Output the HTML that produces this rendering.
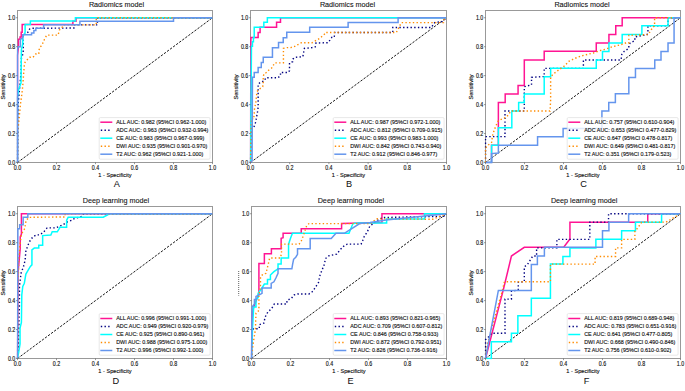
<!DOCTYPE html>
<html><head><meta charset="utf-8"><style>
html,body{margin:0;padding:0;background:#fff;}
body{width:685px;height:391px;overflow:hidden;}
svg{display:block;font-family:"Liberation Sans", sans-serif;}
</style></head><body>
<svg width="685" height="391" viewBox="0 0 685 391">
<rect width="685" height="391" fill="#fff"/>
<text x="116.50" y="7.30" font-size="7.4" text-anchor="middle" textLength="55.22" lengthAdjust="spacingAndGlyphs" fill="#111" stroke="#111" stroke-width="0.1">Radiomics model</text>
<rect x="17.5" y="10.5" width="195" height="152" fill="none" stroke="#999" stroke-width="1"/>
<clipPath id="c0"><rect x="16.5" y="10.5" width="196.5" height="153"/></clipPath>
<g clip-path="url(#c0)" fill="none" stroke-linejoin="miter">
<line x1="17.5" y1="162.5" x2="212.5" y2="17.74" stroke="#1a1a1a" stroke-width="1.0" stroke-dasharray="2.4 1.4"/>
<polyline points="17.5,162.5 17.5,55.38 18.48,46.69 18.48,39.31 20.04,39.31 20.04,36.99 21.2,36.99 21.2,32.36 22.18,32.36 22.18,24.54 72.88,24.54 72.88,21.21 76,21.21 76,17.74 212.5,17.74" stroke="#ff1493" stroke-width="1.5"/>
<polyline points="17.5,162.5 18.09,104.6 21.01,72.75 21.4,58.27 23.16,53.2 23.35,43.8 22.77,38 22.77,34.82 27.25,32.94 28.42,31.64 29.59,29.03 32.32,28.31 73.85,28.02 73.85,24.83 97.45,24.83 97.45,17.74 212.5,17.74" stroke="#000080" stroke-width="1.4" stroke-dasharray="1.4 2.3"/>
<polyline points="17.5,162.5 17.5,97.36 18.48,90.12 21.01,82.88 21.4,49.59 22.77,43.8 22.77,35.69 24.33,34.24 25.11,32.21 25.11,24.54 30.37,24.54 30.37,21.07 75.41,21.07 75.41,17.74 212.5,17.74" stroke="#00ffff" stroke-width="1.5"/>
<polyline points="17.5,162.5 17.5,130.65 18.48,124.86 20.43,104.6 22.38,90.12 22.96,82.88 24.33,64.64 25.3,61.6 27.25,59.72 29.79,57.26 33.1,57.26 35.64,53.93 38.75,53.93 39.34,48.14 41.88,45.24 44.41,39.45 46.75,35.11 58.06,35.11 59.42,30.04 61.57,28.02 63.52,25.41 63.52,24.83 96.28,24.83 96.28,17.74 212.5,17.74" stroke="#ff8c00" stroke-width="1.4" stroke-dasharray="1.4 2.3"/>
<polyline points="17.5,162.5 17.5,49.59 18.28,46.69 20.43,46.69 20.43,39.45 22.77,38 22.77,34.82 31.54,34.82 31.54,32.94 33.88,32.94 33.88,30.62 35.83,30.62 35.83,28.31 43.63,28.31 43.63,24.83 79.9,24.83 79.9,21.36 173.5,21.36 173.5,17.74 212.5,17.74" stroke="#6495ed" stroke-width="1.5"/>
</g>
<line x1="17.5" y1="162.5" x2="17.5" y2="164.1" stroke="#555" stroke-width="0.6"/>
<line x1="17.5" y1="162.5" x2="15.9" y2="162.5" stroke="#555" stroke-width="0.6"/>
<text x="17.50" y="169.50" font-size="6.4" text-anchor="middle" textLength="7.37" lengthAdjust="spacingAndGlyphs" fill="#111" stroke="#111" stroke-width="0.14">0.0</text>
<text x="15.30" y="164.80" font-size="6.4" text-anchor="end" textLength="7.37" lengthAdjust="spacingAndGlyphs" fill="#111" stroke="#111" stroke-width="0.14">0.0</text>
<line x1="56.5" y1="162.5" x2="56.5" y2="164.1" stroke="#555" stroke-width="0.6"/>
<line x1="17.5" y1="133.55" x2="15.9" y2="133.55" stroke="#555" stroke-width="0.6"/>
<text x="56.50" y="169.50" font-size="6.4" text-anchor="middle" textLength="7.37" lengthAdjust="spacingAndGlyphs" fill="#111" stroke="#111" stroke-width="0.14">0.2</text>
<text x="15.30" y="135.85" font-size="6.4" text-anchor="end" textLength="7.37" lengthAdjust="spacingAndGlyphs" fill="#111" stroke="#111" stroke-width="0.14">0.2</text>
<line x1="95.5" y1="162.5" x2="95.5" y2="164.1" stroke="#555" stroke-width="0.6"/>
<line x1="17.5" y1="104.6" x2="15.9" y2="104.6" stroke="#555" stroke-width="0.6"/>
<text x="95.50" y="169.50" font-size="6.4" text-anchor="middle" textLength="7.37" lengthAdjust="spacingAndGlyphs" fill="#111" stroke="#111" stroke-width="0.14">0.4</text>
<text x="15.30" y="106.90" font-size="6.4" text-anchor="end" textLength="7.37" lengthAdjust="spacingAndGlyphs" fill="#111" stroke="#111" stroke-width="0.14">0.4</text>
<line x1="134.5" y1="162.5" x2="134.5" y2="164.1" stroke="#555" stroke-width="0.6"/>
<line x1="17.5" y1="75.64" x2="15.9" y2="75.64" stroke="#555" stroke-width="0.6"/>
<text x="134.50" y="169.50" font-size="6.4" text-anchor="middle" textLength="7.37" lengthAdjust="spacingAndGlyphs" fill="#111" stroke="#111" stroke-width="0.14">0.6</text>
<text x="15.30" y="77.94" font-size="6.4" text-anchor="end" textLength="7.37" lengthAdjust="spacingAndGlyphs" fill="#111" stroke="#111" stroke-width="0.14">0.6</text>
<line x1="173.5" y1="162.5" x2="173.5" y2="164.1" stroke="#555" stroke-width="0.6"/>
<line x1="17.5" y1="46.69" x2="15.9" y2="46.69" stroke="#555" stroke-width="0.6"/>
<text x="173.50" y="169.50" font-size="6.4" text-anchor="middle" textLength="7.37" lengthAdjust="spacingAndGlyphs" fill="#111" stroke="#111" stroke-width="0.14">0.8</text>
<text x="15.30" y="48.99" font-size="6.4" text-anchor="end" textLength="7.37" lengthAdjust="spacingAndGlyphs" fill="#111" stroke="#111" stroke-width="0.14">0.8</text>
<line x1="212.5" y1="162.5" x2="212.5" y2="164.1" stroke="#555" stroke-width="0.6"/>
<line x1="17.5" y1="17.74" x2="15.9" y2="17.74" stroke="#555" stroke-width="0.6"/>
<text x="212.50" y="169.50" font-size="6.4" text-anchor="middle" textLength="7.37" lengthAdjust="spacingAndGlyphs" fill="#111" stroke="#111" stroke-width="0.14">1.0</text>
<text x="15.30" y="20.04" font-size="6.4" text-anchor="end" textLength="7.37" lengthAdjust="spacingAndGlyphs" fill="#111" stroke="#111" stroke-width="0.14">1.0</text>
<text x="115.00" y="176.50" font-size="6.2" text-anchor="middle" textLength="33.30" lengthAdjust="spacingAndGlyphs" fill="#111" stroke="#111" stroke-width="0.14">1 - Specificity</text>
<text x="4.90" y="87.00" font-size="6.0" text-anchor="middle" textLength="24.98" lengthAdjust="spacingAndGlyphs" fill="#111" stroke="#111" stroke-width="0.14" transform="rotate(-90 4.9 87)">Sensitivity</text>
<text x="116.80" y="186.60" font-size="9.7" text-anchor="middle" textLength="6.14" lengthAdjust="spacingAndGlyphs" fill="#111" stroke="#111" stroke-width="0.05">A</text>
<rect x="99.2" y="117.6" width="110.9" height="41.6" rx="1.2" fill="#fff" fill-opacity="0.8" stroke="#d8d8d8" stroke-width="0.6"/>
<line x1="100.3" y1="122.2" x2="112.3" y2="122.2" stroke="#ff1493" stroke-width="1.5"/>
<text x="116.20" y="124.10" font-size="6.2" textLength="90.15" lengthAdjust="spacingAndGlyphs" fill="#111" stroke="#111" stroke-width="0.14">ALL AUC: 0.982 (95%CI 0.962-1.000)</text>
<line x1="100.8" y1="130.2" x2="111.5" y2="130.2" stroke="#000080" stroke-width="1.4" stroke-dasharray="1.4 2.3"/>
<text x="116.20" y="132.10" font-size="6.2" textLength="92.14" lengthAdjust="spacingAndGlyphs" fill="#111" stroke="#111" stroke-width="0.14">ADC AUC: 0.963 (95%CI 0.932-0.994)</text>
<line x1="100.3" y1="138.2" x2="112.3" y2="138.2" stroke="#00ffff" stroke-width="1.5"/>
<text x="116.20" y="140.10" font-size="6.2" textLength="88.24" lengthAdjust="spacingAndGlyphs" fill="#111" stroke="#111" stroke-width="0.14">CE AUC: 0.983 (95%CI 0.967-0.999)</text>
<line x1="100.8" y1="146.2" x2="111.5" y2="146.2" stroke="#ff8c00" stroke-width="1.4" stroke-dasharray="1.4 2.3"/>
<text x="116.20" y="148.10" font-size="6.2" textLength="91.24" lengthAdjust="spacingAndGlyphs" fill="#111" stroke="#111" stroke-width="0.14">DWI AUC: 0.935 (95%CI 0.901-0.970)</text>
<line x1="100.3" y1="154.2" x2="112.3" y2="154.2" stroke="#6495ed" stroke-width="1.5"/>
<text x="116.20" y="156.10" font-size="6.2" textLength="87.04" lengthAdjust="spacingAndGlyphs" fill="#111" stroke="#111" stroke-width="0.14">T2 AUC: 0.962 (95%CI 0.921-1.000)</text>
<text x="347.50" y="7.30" font-size="7.4" text-anchor="middle" textLength="55.22" lengthAdjust="spacingAndGlyphs" fill="#111" stroke="#111" stroke-width="0.1">Radiomics model</text>
<rect x="250.5" y="10.5" width="196" height="152" fill="none" stroke="#999" stroke-width="1"/>
<clipPath id="c1"><rect x="249.5" y="10.5" width="197.5" height="153"/></clipPath>
<g clip-path="url(#c1)" fill="none" stroke-linejoin="miter">
<line x1="250.5" y1="162.5" x2="446.5" y2="17.74" stroke="#1a1a1a" stroke-width="1.0" stroke-dasharray="2.4 1.4"/>
<polyline points="250.5,162.5 250.89,37.5 258.14,37.5 258.14,32.43 260.1,32.43 260.1,27.36 276.57,27.36 276.57,22.15 280.49,22.15 280.49,17.74 446.5,17.74" stroke="#ff1493" stroke-width="1.5"/>
<polyline points="250.5,162.5 251.48,128.7 253.64,127.83 255.4,122.91 256.18,119.14 256.97,114.8 257.95,109.59 258.14,105.83 258.14,84.11 260.69,82.08 264.42,80.93 265.79,77.74 277.94,77.74 280.49,75.72 280.49,72.53 288.13,72.53 289.5,70.65 289.5,62.98 292.64,61.67 292.84,59.07 295.19,57.33 302.83,56.75 304.4,48.36 312.04,47.63 315.18,46.91 315.96,43 328.12,42.71 332.04,37.21 334.19,37.21 334.78,32.43 392.8,32.43 392.8,27.51 431.21,27.51 434.74,22.59 442.58,21.57 446.5,17.74" stroke="#000080" stroke-width="1.4" stroke-dasharray="1.4 2.3"/>
<polyline points="250.5,162.5 251.48,46.18 252.46,46.18 252.46,41.84 253.44,41.84 253.44,37.5 254.22,37.5 254.22,27.36 263.83,27.36 263.83,22.15 267.36,22.15 267.36,17.74 446.5,17.74" stroke="#00ffff" stroke-width="1.5"/>
<polyline points="250.5,162.5 251.09,127.25 251.48,118.56 253.64,119.14 254.22,113.5 254.42,109.59 255.01,106.4 255.79,102.64 256.18,98.73 256.97,91.64 259.32,89.18 262.65,86.72 263.24,84.11 263.24,77.16 263.83,73.83 266.38,72.53 268.92,69.92 271.67,68.04 274.8,62.83 283.43,62.83 283.43,48.36 286.96,47.63 290.68,47.63 294.6,46.47 297.15,45.03 301.46,42.71 312.04,42.71 319.69,38.37 325.76,33.01 325.76,32.43 396.32,32.43 401.42,22.59 443.56,22.59 444.54,17.74 446.5,17.74" stroke="#ff8c00" stroke-width="1.4" stroke-dasharray="1.4 2.3"/>
<polyline points="250.5,162.5 252.07,160.55 252.46,77.16 254.22,77.16 254.22,72.53 258.14,72.53 258.14,67.46 261.28,67.46 261.28,62.4 263.24,62.4 263.24,57.33 272.45,57.33 272.45,47.63 278.53,47.63 278.53,42.42 283.23,42.42 283.23,37.64 286.76,37.64 286.76,32.29 309.69,32.29 309.69,27.36 348.11,27.36 348.11,22.59 398.09,22.59 398.09,17.74 446.5,17.74" stroke="#6495ed" stroke-width="1.5"/>
</g>
<line x1="250.5" y1="162.5" x2="250.5" y2="164.1" stroke="#555" stroke-width="0.6"/>
<line x1="250.5" y1="162.5" x2="248.9" y2="162.5" stroke="#555" stroke-width="0.6"/>
<text x="250.50" y="169.50" font-size="6.4" text-anchor="middle" textLength="7.37" lengthAdjust="spacingAndGlyphs" fill="#111" stroke="#111" stroke-width="0.14">0.0</text>
<text x="248.30" y="164.80" font-size="6.4" text-anchor="end" textLength="7.37" lengthAdjust="spacingAndGlyphs" fill="#111" stroke="#111" stroke-width="0.14">0.0</text>
<line x1="289.7" y1="162.5" x2="289.7" y2="164.1" stroke="#555" stroke-width="0.6"/>
<line x1="250.5" y1="133.55" x2="248.9" y2="133.55" stroke="#555" stroke-width="0.6"/>
<text x="289.70" y="169.50" font-size="6.4" text-anchor="middle" textLength="7.37" lengthAdjust="spacingAndGlyphs" fill="#111" stroke="#111" stroke-width="0.14">0.2</text>
<text x="248.30" y="135.85" font-size="6.4" text-anchor="end" textLength="7.37" lengthAdjust="spacingAndGlyphs" fill="#111" stroke="#111" stroke-width="0.14">0.2</text>
<line x1="328.9" y1="162.5" x2="328.9" y2="164.1" stroke="#555" stroke-width="0.6"/>
<line x1="250.5" y1="104.6" x2="248.9" y2="104.6" stroke="#555" stroke-width="0.6"/>
<text x="328.90" y="169.50" font-size="6.4" text-anchor="middle" textLength="7.37" lengthAdjust="spacingAndGlyphs" fill="#111" stroke="#111" stroke-width="0.14">0.4</text>
<text x="248.30" y="106.90" font-size="6.4" text-anchor="end" textLength="7.37" lengthAdjust="spacingAndGlyphs" fill="#111" stroke="#111" stroke-width="0.14">0.4</text>
<line x1="368.1" y1="162.5" x2="368.1" y2="164.1" stroke="#555" stroke-width="0.6"/>
<line x1="250.5" y1="75.64" x2="248.9" y2="75.64" stroke="#555" stroke-width="0.6"/>
<text x="368.10" y="169.50" font-size="6.4" text-anchor="middle" textLength="7.37" lengthAdjust="spacingAndGlyphs" fill="#111" stroke="#111" stroke-width="0.14">0.6</text>
<text x="248.30" y="77.94" font-size="6.4" text-anchor="end" textLength="7.37" lengthAdjust="spacingAndGlyphs" fill="#111" stroke="#111" stroke-width="0.14">0.6</text>
<line x1="407.3" y1="162.5" x2="407.3" y2="164.1" stroke="#555" stroke-width="0.6"/>
<line x1="250.5" y1="46.69" x2="248.9" y2="46.69" stroke="#555" stroke-width="0.6"/>
<text x="407.30" y="169.50" font-size="6.4" text-anchor="middle" textLength="7.37" lengthAdjust="spacingAndGlyphs" fill="#111" stroke="#111" stroke-width="0.14">0.8</text>
<text x="248.30" y="48.99" font-size="6.4" text-anchor="end" textLength="7.37" lengthAdjust="spacingAndGlyphs" fill="#111" stroke="#111" stroke-width="0.14">0.8</text>
<line x1="446.5" y1="162.5" x2="446.5" y2="164.1" stroke="#555" stroke-width="0.6"/>
<line x1="250.5" y1="17.74" x2="248.9" y2="17.74" stroke="#555" stroke-width="0.6"/>
<text x="446.50" y="169.50" font-size="6.4" text-anchor="middle" textLength="7.37" lengthAdjust="spacingAndGlyphs" fill="#111" stroke="#111" stroke-width="0.14">1.0</text>
<text x="248.30" y="20.04" font-size="6.4" text-anchor="end" textLength="7.37" lengthAdjust="spacingAndGlyphs" fill="#111" stroke="#111" stroke-width="0.14">1.0</text>
<text x="348.50" y="176.50" font-size="6.2" text-anchor="middle" textLength="33.30" lengthAdjust="spacingAndGlyphs" fill="#111" stroke="#111" stroke-width="0.14">1 - Specificity</text>
<text x="237.90" y="87.00" font-size="6.0" text-anchor="middle" textLength="24.98" lengthAdjust="spacingAndGlyphs" fill="#111" stroke="#111" stroke-width="0.14" transform="rotate(-90 237.9 87)">Sensitivity</text>
<text x="349.10" y="186.60" font-size="9.7" text-anchor="middle" textLength="6.14" lengthAdjust="spacingAndGlyphs" fill="#111" stroke="#111" stroke-width="0.05">B</text>
<rect x="333.2" y="117.6" width="110.9" height="41.6" rx="1.2" fill="#fff" fill-opacity="0.8" stroke="#d8d8d8" stroke-width="0.6"/>
<line x1="334.3" y1="122.2" x2="346.3" y2="122.2" stroke="#ff1493" stroke-width="1.5"/>
<text x="350.20" y="124.10" font-size="6.2" textLength="90.15" lengthAdjust="spacingAndGlyphs" fill="#111" stroke="#111" stroke-width="0.14">ALL AUC: 0.987 (95%CI 0.972-1.000)</text>
<line x1="334.8" y1="130.2" x2="345.5" y2="130.2" stroke="#000080" stroke-width="1.4" stroke-dasharray="1.4 2.3"/>
<text x="350.20" y="132.10" font-size="6.2" textLength="92.14" lengthAdjust="spacingAndGlyphs" fill="#111" stroke="#111" stroke-width="0.14">ADC AUC: 0.812 (95%CI 0.709-0.915)</text>
<line x1="334.3" y1="138.2" x2="346.3" y2="138.2" stroke="#00ffff" stroke-width="1.5"/>
<text x="350.20" y="140.10" font-size="6.2" textLength="88.24" lengthAdjust="spacingAndGlyphs" fill="#111" stroke="#111" stroke-width="0.14">CE AUC: 0.993 (95%CI 0.983-1.000)</text>
<line x1="334.8" y1="146.2" x2="345.5" y2="146.2" stroke="#ff8c00" stroke-width="1.4" stroke-dasharray="1.4 2.3"/>
<text x="350.20" y="148.10" font-size="6.2" textLength="91.24" lengthAdjust="spacingAndGlyphs" fill="#111" stroke="#111" stroke-width="0.14">DWI AUC: 0.842 (95%CI 0.743-0.940)</text>
<line x1="334.3" y1="154.2" x2="346.3" y2="154.2" stroke="#6495ed" stroke-width="1.5"/>
<text x="350.20" y="156.10" font-size="6.2" textLength="87.04" lengthAdjust="spacingAndGlyphs" fill="#111" stroke="#111" stroke-width="0.14">T2 AUC: 0.912 (95%CI 0.846-0.977)</text>
<text x="582.00" y="7.30" font-size="7.4" text-anchor="middle" textLength="55.22" lengthAdjust="spacingAndGlyphs" fill="#111" stroke="#111" stroke-width="0.1">Radiomics model</text>
<rect x="485.5" y="10.5" width="195" height="152" fill="none" stroke="#999" stroke-width="1"/>
<clipPath id="c2"><rect x="484.5" y="10.5" width="196.5" height="153"/></clipPath>
<g clip-path="url(#c2)" fill="none" stroke-linejoin="miter">
<line x1="485.5" y1="162.5" x2="680.5" y2="17.74" stroke="#1a1a1a" stroke-width="1.0" stroke-dasharray="2.4 1.4"/>
<polyline points="485.5,162.5 491.55,162.5 491.55,145.27 498.37,145.27 498.37,102.5 505.19,102.5 505.19,93.96 518.07,93.96 518.07,85.56 524.3,85.56 524.3,59.94 544.2,59.94 544.2,51.25 596.26,51.25 596.26,43 608.93,43 608.93,34.6 615.76,34.6 615.76,25.77 622.19,25.77 622.19,17.74 680.5,17.74" stroke="#ff1493" stroke-width="1.5"/>
<polyline points="485.5,162.5 485.5,136.66 505,136.66 505,111.04 524.3,111.04 524.3,86.72 531.52,84.84 531.52,77.31 544.2,76.58 544.2,68.33 547.51,68.33 583.39,68.33 583.39,59.94 621.02,59.94 621.8,54.44 624.14,51.4 628.83,48.36 628.83,45.32 630.19,43 634.87,40.68 634.87,36.92 647.15,34.6 647.93,31.71 647.93,25.77 668.02,25.77 668.02,17.74 680.5,17.74" stroke="#000080" stroke-width="1.4" stroke-dasharray="1.4 2.3"/>
<polyline points="485.5,162.5 491.55,162.5 491.55,145.27 498.37,145.27 498.37,127.83 511.82,127.83 511.82,111.04 518.65,111.04 518.65,102.5 524.3,102.5 524.3,93.96 544.2,93.96 544.2,76.87 550.63,76.87 550.63,68.33 596.26,68.33 596.26,59.94 602.5,59.94 602.5,51.54 608.93,51.54 608.93,43 622.19,43 622.19,34.6 641.89,34.6 641.89,25.77 668.02,25.77 668.02,17.74 680.5,17.74" stroke="#00ffff" stroke-width="1.5"/>
<polyline points="485.5,162.5 485.5,148.02 487.64,145.56 491.74,142.23 492.13,138.47 492.71,135 493.69,131.67 495.06,128.05 496.42,124.72 497.79,121.53 500.51,119.65 503.83,118.35 506.56,116.9 508.9,114.15 510.85,111.04 550.04,111.04 550.63,100.04 550.63,76.87 553.55,73.83 556.67,71.52 559.79,69.2 564.28,66.02 568.76,61.38 575,58.34 581.05,56.03 587.29,54.44 593.34,52.99 599.58,50.67 605.62,49.22 611.86,46.91 618.1,45.32 623.95,43.72 627.07,42.28 628.83,43 628.83,35.33 647.93,34.6 650.86,30.69 652.42,27.36 654.57,25.92 654.57,17.74 680.5,17.74" stroke="#ff8c00" stroke-width="1.4" stroke-dasharray="1.4 2.3"/>
<polyline points="485.5,162.5 491.55,162.5 491.55,153.6 498.37,152.95 498.37,145.27 537.57,145.27 537.57,136.66 563.11,136.66 563.11,128.55 601.91,128.55 601.91,111.04 608.74,111.04 608.74,102.5 615.37,102.5 615.37,93.67 628.83,93.67 628.83,77.45 635.46,77.45 635.46,68.62 654.76,68.62 654.76,59.94 661,59.94 661,51.54 668.02,51.54 668.02,43 674.07,43 674.07,17.74 680.5,17.74" stroke="#6495ed" stroke-width="1.5"/>
</g>
<line x1="485.5" y1="162.5" x2="485.5" y2="164.1" stroke="#555" stroke-width="0.6"/>
<line x1="485.5" y1="162.5" x2="483.9" y2="162.5" stroke="#555" stroke-width="0.6"/>
<text x="485.50" y="169.50" font-size="6.4" text-anchor="middle" textLength="7.37" lengthAdjust="spacingAndGlyphs" fill="#111" stroke="#111" stroke-width="0.14">0.0</text>
<text x="483.30" y="164.80" font-size="6.4" text-anchor="end" textLength="7.37" lengthAdjust="spacingAndGlyphs" fill="#111" stroke="#111" stroke-width="0.14">0.0</text>
<line x1="524.5" y1="162.5" x2="524.5" y2="164.1" stroke="#555" stroke-width="0.6"/>
<line x1="485.5" y1="133.55" x2="483.9" y2="133.55" stroke="#555" stroke-width="0.6"/>
<text x="524.50" y="169.50" font-size="6.4" text-anchor="middle" textLength="7.37" lengthAdjust="spacingAndGlyphs" fill="#111" stroke="#111" stroke-width="0.14">0.2</text>
<text x="483.30" y="135.85" font-size="6.4" text-anchor="end" textLength="7.37" lengthAdjust="spacingAndGlyphs" fill="#111" stroke="#111" stroke-width="0.14">0.2</text>
<line x1="563.5" y1="162.5" x2="563.5" y2="164.1" stroke="#555" stroke-width="0.6"/>
<line x1="485.5" y1="104.6" x2="483.9" y2="104.6" stroke="#555" stroke-width="0.6"/>
<text x="563.50" y="169.50" font-size="6.4" text-anchor="middle" textLength="7.37" lengthAdjust="spacingAndGlyphs" fill="#111" stroke="#111" stroke-width="0.14">0.4</text>
<text x="483.30" y="106.90" font-size="6.4" text-anchor="end" textLength="7.37" lengthAdjust="spacingAndGlyphs" fill="#111" stroke="#111" stroke-width="0.14">0.4</text>
<line x1="602.5" y1="162.5" x2="602.5" y2="164.1" stroke="#555" stroke-width="0.6"/>
<line x1="485.5" y1="75.64" x2="483.9" y2="75.64" stroke="#555" stroke-width="0.6"/>
<text x="602.50" y="169.50" font-size="6.4" text-anchor="middle" textLength="7.37" lengthAdjust="spacingAndGlyphs" fill="#111" stroke="#111" stroke-width="0.14">0.6</text>
<text x="483.30" y="77.94" font-size="6.4" text-anchor="end" textLength="7.37" lengthAdjust="spacingAndGlyphs" fill="#111" stroke="#111" stroke-width="0.14">0.6</text>
<line x1="641.5" y1="162.5" x2="641.5" y2="164.1" stroke="#555" stroke-width="0.6"/>
<line x1="485.5" y1="46.69" x2="483.9" y2="46.69" stroke="#555" stroke-width="0.6"/>
<text x="641.50" y="169.50" font-size="6.4" text-anchor="middle" textLength="7.37" lengthAdjust="spacingAndGlyphs" fill="#111" stroke="#111" stroke-width="0.14">0.8</text>
<text x="483.30" y="48.99" font-size="6.4" text-anchor="end" textLength="7.37" lengthAdjust="spacingAndGlyphs" fill="#111" stroke="#111" stroke-width="0.14">0.8</text>
<line x1="680.5" y1="162.5" x2="680.5" y2="164.1" stroke="#555" stroke-width="0.6"/>
<line x1="485.5" y1="17.74" x2="483.9" y2="17.74" stroke="#555" stroke-width="0.6"/>
<text x="680.50" y="169.50" font-size="6.4" text-anchor="middle" textLength="7.37" lengthAdjust="spacingAndGlyphs" fill="#111" stroke="#111" stroke-width="0.14">1.0</text>
<text x="483.30" y="20.04" font-size="6.4" text-anchor="end" textLength="7.37" lengthAdjust="spacingAndGlyphs" fill="#111" stroke="#111" stroke-width="0.14">1.0</text>
<text x="583.00" y="176.50" font-size="6.2" text-anchor="middle" textLength="33.30" lengthAdjust="spacingAndGlyphs" fill="#111" stroke="#111" stroke-width="0.14">1 - Specificity</text>
<text x="472.90" y="87.00" font-size="6.0" text-anchor="middle" textLength="24.98" lengthAdjust="spacingAndGlyphs" fill="#111" stroke="#111" stroke-width="0.14" transform="rotate(-90 472.9 87)">Sensitivity</text>
<text x="583.60" y="186.60" font-size="9.7" text-anchor="middle" textLength="6.64" lengthAdjust="spacingAndGlyphs" fill="#111" stroke="#111" stroke-width="0.05">C</text>
<rect x="567.2" y="117.6" width="110.9" height="41.6" rx="1.2" fill="#fff" fill-opacity="0.8" stroke="#d8d8d8" stroke-width="0.6"/>
<line x1="568.3" y1="122.2" x2="580.3" y2="122.2" stroke="#ff1493" stroke-width="1.5"/>
<text x="584.20" y="124.10" font-size="6.2" textLength="90.15" lengthAdjust="spacingAndGlyphs" fill="#111" stroke="#111" stroke-width="0.14">ALL AUC: 0.757 (95%CI 0.610-0.904)</text>
<line x1="568.8" y1="130.2" x2="579.5" y2="130.2" stroke="#000080" stroke-width="1.4" stroke-dasharray="1.4 2.3"/>
<text x="584.20" y="132.10" font-size="6.2" textLength="92.14" lengthAdjust="spacingAndGlyphs" fill="#111" stroke="#111" stroke-width="0.14">ADC AUC: 0.653 (95%CI 0.477-0.829)</text>
<line x1="568.3" y1="138.2" x2="580.3" y2="138.2" stroke="#00ffff" stroke-width="1.5"/>
<text x="584.20" y="140.10" font-size="6.2" textLength="88.24" lengthAdjust="spacingAndGlyphs" fill="#111" stroke="#111" stroke-width="0.14">CE AUC: 0.647 (95%CI 0.478-0.817)</text>
<line x1="568.8" y1="146.2" x2="579.5" y2="146.2" stroke="#ff8c00" stroke-width="1.4" stroke-dasharray="1.4 2.3"/>
<text x="584.20" y="148.10" font-size="6.2" textLength="91.24" lengthAdjust="spacingAndGlyphs" fill="#111" stroke="#111" stroke-width="0.14">DWI AUC: 0.649 (95%CI 0.481-0.817)</text>
<line x1="568.3" y1="154.2" x2="580.3" y2="154.2" stroke="#6495ed" stroke-width="1.5"/>
<text x="584.20" y="156.10" font-size="6.2" textLength="87.04" lengthAdjust="spacingAndGlyphs" fill="#111" stroke="#111" stroke-width="0.14">T2 AUC: 0.351 (95%CI 0.179-0.523)</text>
<text x="116.00" y="203.30" font-size="7.4" text-anchor="middle" textLength="66.44" lengthAdjust="spacingAndGlyphs" fill="#111" stroke="#111" stroke-width="0.1">Deep learning model</text>
<rect x="17.5" y="206.5" width="195" height="152" fill="none" stroke="#999" stroke-width="1"/>
<clipPath id="c3"><rect x="16.5" y="206.5" width="196.5" height="153"/></clipPath>
<g clip-path="url(#c3)" fill="none" stroke-linejoin="miter">
<line x1="17.5" y1="358.5" x2="212.5" y2="213.74" stroke="#1a1a1a" stroke-width="1.0" stroke-dasharray="2.4 1.4"/>
<polyline points="17.5,358.5 18.09,271.64 19.45,257.17 20.23,248.48 20.23,236.9 21.4,234 21.4,213.74 212.5,213.74" stroke="#ff1493" stroke-width="1.5"/>
<polyline points="17.5,358.5 18.48,344.02 19.45,304.07 19.45,286.12 20.43,278.01 21.2,272.66 23.55,266.43 25.11,260.21 25.88,251.09 28.03,245.01 30.37,240.08 32.91,236.9 36.22,234.87 39.92,234.87 43.83,231.83 47.14,227.92 55.91,227.92 62.74,224.88 67.42,221.84 71.91,220.25 74.25,218.66 81.85,216.34 83.8,213.74 212.5,213.74" stroke="#000080" stroke-width="1.4" stroke-dasharray="1.4 2.3"/>
<polyline points="17.5,358.5 18.86,351.26 20.04,344.02 20.04,328.1 21.4,322.31 21.79,294.8 22.77,286.41 24.33,283.22 25.88,274.1 28.03,270.34 30.37,266.43 31.93,264.84 31.93,249.78 34.27,248.05 38.75,248.05 38.75,245.3 42.66,245.3 42.66,235.6 50.85,235.02 52.21,231.83 57.28,231.83 59.23,228.65 59.81,227.35 66.64,227.35 66.64,220.25 68.2,217.21 103.3,217.21 109.54,213.74 212.5,213.74" stroke="#00ffff" stroke-width="1.5"/>
<polyline points="17.5,358.5 18.09,286.12 18.86,257.17 20.23,242.69 21.4,234 24.71,228.65 26.08,220.25 29.2,217.36 65.08,216.92 65.08,213.74 212.5,213.74" stroke="#ff8c00" stroke-width="1.4" stroke-dasharray="1.4 2.3"/>
<polyline points="17.5,358.5 17.89,228.65 19.64,228.65 19.64,224.74 23.16,224.74 23.16,217.36 27.84,217.36 27.84,213.74 212.5,213.74" stroke="#6495ed" stroke-width="1.5"/>
</g>
<line x1="17.5" y1="358.5" x2="17.5" y2="360.1" stroke="#555" stroke-width="0.6"/>
<line x1="17.5" y1="358.5" x2="15.9" y2="358.5" stroke="#555" stroke-width="0.6"/>
<text x="17.50" y="365.50" font-size="6.4" text-anchor="middle" textLength="7.37" lengthAdjust="spacingAndGlyphs" fill="#111" stroke="#111" stroke-width="0.14">0.0</text>
<text x="15.30" y="360.80" font-size="6.4" text-anchor="end" textLength="7.37" lengthAdjust="spacingAndGlyphs" fill="#111" stroke="#111" stroke-width="0.14">0.0</text>
<line x1="56.5" y1="358.5" x2="56.5" y2="360.1" stroke="#555" stroke-width="0.6"/>
<line x1="17.5" y1="329.55" x2="15.9" y2="329.55" stroke="#555" stroke-width="0.6"/>
<text x="56.50" y="365.50" font-size="6.4" text-anchor="middle" textLength="7.37" lengthAdjust="spacingAndGlyphs" fill="#111" stroke="#111" stroke-width="0.14">0.2</text>
<text x="15.30" y="331.85" font-size="6.4" text-anchor="end" textLength="7.37" lengthAdjust="spacingAndGlyphs" fill="#111" stroke="#111" stroke-width="0.14">0.2</text>
<line x1="95.5" y1="358.5" x2="95.5" y2="360.1" stroke="#555" stroke-width="0.6"/>
<line x1="17.5" y1="300.6" x2="15.9" y2="300.6" stroke="#555" stroke-width="0.6"/>
<text x="95.50" y="365.50" font-size="6.4" text-anchor="middle" textLength="7.37" lengthAdjust="spacingAndGlyphs" fill="#111" stroke="#111" stroke-width="0.14">0.4</text>
<text x="15.30" y="302.90" font-size="6.4" text-anchor="end" textLength="7.37" lengthAdjust="spacingAndGlyphs" fill="#111" stroke="#111" stroke-width="0.14">0.4</text>
<line x1="134.5" y1="358.5" x2="134.5" y2="360.1" stroke="#555" stroke-width="0.6"/>
<line x1="17.5" y1="271.64" x2="15.9" y2="271.64" stroke="#555" stroke-width="0.6"/>
<text x="134.50" y="365.50" font-size="6.4" text-anchor="middle" textLength="7.37" lengthAdjust="spacingAndGlyphs" fill="#111" stroke="#111" stroke-width="0.14">0.6</text>
<text x="15.30" y="273.94" font-size="6.4" text-anchor="end" textLength="7.37" lengthAdjust="spacingAndGlyphs" fill="#111" stroke="#111" stroke-width="0.14">0.6</text>
<line x1="173.5" y1="358.5" x2="173.5" y2="360.1" stroke="#555" stroke-width="0.6"/>
<line x1="17.5" y1="242.69" x2="15.9" y2="242.69" stroke="#555" stroke-width="0.6"/>
<text x="173.50" y="365.50" font-size="6.4" text-anchor="middle" textLength="7.37" lengthAdjust="spacingAndGlyphs" fill="#111" stroke="#111" stroke-width="0.14">0.8</text>
<text x="15.30" y="244.99" font-size="6.4" text-anchor="end" textLength="7.37" lengthAdjust="spacingAndGlyphs" fill="#111" stroke="#111" stroke-width="0.14">0.8</text>
<line x1="212.5" y1="358.5" x2="212.5" y2="360.1" stroke="#555" stroke-width="0.6"/>
<line x1="17.5" y1="213.74" x2="15.9" y2="213.74" stroke="#555" stroke-width="0.6"/>
<text x="212.50" y="365.50" font-size="6.4" text-anchor="middle" textLength="7.37" lengthAdjust="spacingAndGlyphs" fill="#111" stroke="#111" stroke-width="0.14">1.0</text>
<text x="15.30" y="216.04" font-size="6.4" text-anchor="end" textLength="7.37" lengthAdjust="spacingAndGlyphs" fill="#111" stroke="#111" stroke-width="0.14">1.0</text>
<text x="115.00" y="372.50" font-size="6.2" text-anchor="middle" textLength="33.30" lengthAdjust="spacingAndGlyphs" fill="#111" stroke="#111" stroke-width="0.14">1 - Specificity</text>
<text x="4.90" y="283.00" font-size="6.0" text-anchor="middle" textLength="24.98" lengthAdjust="spacingAndGlyphs" fill="#111" stroke="#111" stroke-width="0.14" transform="rotate(-90 4.9 283)">Sensitivity</text>
<text x="115.90" y="383.60" font-size="9.7" text-anchor="middle" textLength="6.64" lengthAdjust="spacingAndGlyphs" fill="#111" stroke="#111" stroke-width="0.05">D</text>
<rect x="99.2" y="313.6" width="110.9" height="41.6" rx="1.2" fill="#fff" fill-opacity="0.8" stroke="#d8d8d8" stroke-width="0.6"/>
<line x1="100.3" y1="318.5" x2="112.3" y2="318.5" stroke="#ff1493" stroke-width="1.5"/>
<text x="116.20" y="320.40" font-size="6.2" textLength="90.15" lengthAdjust="spacingAndGlyphs" fill="#111" stroke="#111" stroke-width="0.14">ALL AUC: 0.996 (95%CI 0.991-1.000)</text>
<line x1="100.8" y1="326.5" x2="111.5" y2="326.5" stroke="#000080" stroke-width="1.4" stroke-dasharray="1.4 2.3"/>
<text x="116.20" y="328.40" font-size="6.2" textLength="92.14" lengthAdjust="spacingAndGlyphs" fill="#111" stroke="#111" stroke-width="0.14">ADC AUC: 0.949 (95%CI 0.920-0.979)</text>
<line x1="100.3" y1="334.5" x2="112.3" y2="334.5" stroke="#00ffff" stroke-width="1.5"/>
<text x="116.20" y="336.40" font-size="6.2" textLength="88.24" lengthAdjust="spacingAndGlyphs" fill="#111" stroke="#111" stroke-width="0.14">CE AUC: 0.925 (95%CI 0.890-0.961)</text>
<line x1="100.8" y1="342.5" x2="111.5" y2="342.5" stroke="#ff8c00" stroke-width="1.4" stroke-dasharray="1.4 2.3"/>
<text x="116.20" y="344.40" font-size="6.2" textLength="91.24" lengthAdjust="spacingAndGlyphs" fill="#111" stroke="#111" stroke-width="0.14">DWI AUC: 0.988 (95%CI 0.975-1.000)</text>
<line x1="100.3" y1="350.5" x2="112.3" y2="350.5" stroke="#6495ed" stroke-width="1.5"/>
<text x="116.20" y="352.40" font-size="6.2" textLength="87.04" lengthAdjust="spacingAndGlyphs" fill="#111" stroke="#111" stroke-width="0.14">T2 AUC: 0.996 (95%CI 0.992-1.000)</text>
<text x="350.90" y="203.30" font-size="7.4" text-anchor="middle" textLength="66.44" lengthAdjust="spacingAndGlyphs" fill="#111" stroke="#111" stroke-width="0.1">Deep learning model</text>
<rect x="251.5" y="206.5" width="195" height="152" fill="none" stroke="#999" stroke-width="1"/>
<clipPath id="c4"><rect x="250.5" y="206.5" width="196.5" height="153"/></clipPath>
<g clip-path="url(#c4)" fill="none" stroke-linejoin="miter">
<line x1="251.5" y1="358.5" x2="446.5" y2="213.74" stroke="#1a1a1a" stroke-width="1.0" stroke-dasharray="2.4 1.4"/>
<polyline points="251.5,358.5 252.09,315.07 253.65,307.11 257.35,297.7 258.91,293.36 258.91,263.39 264.37,263.39 264.37,253.69 271.39,253.69 271.39,248.63 281.14,248.63 281.14,238.35 283.09,237.62 283.09,233.28 301.23,233.28 301.23,228.79 341.59,228.79 341.59,223.58 381.96,222.42 381.96,213.74 446.5,213.74" stroke="#ff1493" stroke-width="1.5"/>
<polyline points="251.5,358.5 252.09,329.55 253.84,328.68 259.3,328.68 259.3,324.63 263.98,323.03 264.95,317.53 267.88,311.89 271.58,308.7 274.31,304.07 286.6,304.07 287.19,300.16 291.08,298.71 294.2,294.95 297.52,293.94 309.02,293.94 311.95,292.05 314.88,288.15 318.58,282.36 319.56,276.56 320.53,273.81 324.43,264.12 325.4,258.61 329.11,255.72 336.72,254.13 340.42,249.49 344.32,245.59 347.44,244.14 361.09,244.14 362.84,240.23 364.21,236.47 367.33,231.83 369.67,226.48 376.3,220.98 382.74,217.5 444.55,216.34 446.5,213.74" stroke="#000080" stroke-width="1.4" stroke-dasharray="1.4 2.3"/>
<polyline points="251.5,358.5 252.47,329.55 253.65,307.11 255.99,307.11 255.99,299.58 258.13,297.7 258.13,293.36 262.03,288 264.37,284.09 267.49,284.09 267.49,279.46 270.42,279.46 270.42,274.97 273.93,271.64 278.02,268.75 278.02,264.12 281.14,264.12 281.14,258.04 288.55,258.04 288.55,244.14 290.5,238.35 292.45,233.28 349,233.28 352.9,223.58 358.75,223 386.63,223 386.63,218.95 424.47,218.95 424.47,213.74 446.5,213.74" stroke="#00ffff" stroke-width="1.5"/>
<polyline points="251.5,358.5 253.06,344.02 255.4,329.55 255.99,313.33 258.91,310.29 258.91,294.08 260.47,287.13 260.47,277.14 262.81,274.25 265.93,273.38 268.07,264.98 269.63,258.04 280.36,258.04 281.14,255 281.53,253.98 281.53,244.14 299.08,244.14 301.23,241.1 302.98,236.47 306.69,225.61 309.02,223.58 370.45,223.58 376.5,218.8 432.85,219.24 446.5,213.74" stroke="#ff8c00" stroke-width="1.4" stroke-dasharray="1.4 2.3"/>
<polyline points="251.5,358.5 252.09,307.11 254.43,304.07 254.43,299.58 255.99,299.58 255.99,296.4 259.3,294.8 262.03,293.36 262.03,288 271.19,288 271.19,283.37 273.93,281.78 275.88,278.01 278.02,273.38 278.02,268.75 291.87,268.75 292.64,264.12 293.62,259.34 295.76,257.17 297.52,254.27 297.52,248.77 310.19,248.77 310.19,238.49 331.25,238.49 335.94,233.28 344.32,233.28 359.73,223.58 370.06,222.42 386.05,220.11 446.5,213.74" stroke="#6495ed" stroke-width="1.5"/>
</g>
<line x1="251.5" y1="358.5" x2="251.5" y2="360.1" stroke="#555" stroke-width="0.6"/>
<line x1="251.5" y1="358.5" x2="249.9" y2="358.5" stroke="#555" stroke-width="0.6"/>
<text x="251.50" y="365.50" font-size="6.4" text-anchor="middle" textLength="7.37" lengthAdjust="spacingAndGlyphs" fill="#111" stroke="#111" stroke-width="0.14">0.0</text>
<text x="249.30" y="360.80" font-size="6.4" text-anchor="end" textLength="7.37" lengthAdjust="spacingAndGlyphs" fill="#111" stroke="#111" stroke-width="0.14">0.0</text>
<line x1="290.5" y1="358.5" x2="290.5" y2="360.1" stroke="#555" stroke-width="0.6"/>
<line x1="251.5" y1="329.55" x2="249.9" y2="329.55" stroke="#555" stroke-width="0.6"/>
<text x="290.50" y="365.50" font-size="6.4" text-anchor="middle" textLength="7.37" lengthAdjust="spacingAndGlyphs" fill="#111" stroke="#111" stroke-width="0.14">0.2</text>
<text x="249.30" y="331.85" font-size="6.4" text-anchor="end" textLength="7.37" lengthAdjust="spacingAndGlyphs" fill="#111" stroke="#111" stroke-width="0.14">0.2</text>
<line x1="329.5" y1="358.5" x2="329.5" y2="360.1" stroke="#555" stroke-width="0.6"/>
<line x1="251.5" y1="300.6" x2="249.9" y2="300.6" stroke="#555" stroke-width="0.6"/>
<text x="329.50" y="365.50" font-size="6.4" text-anchor="middle" textLength="7.37" lengthAdjust="spacingAndGlyphs" fill="#111" stroke="#111" stroke-width="0.14">0.4</text>
<text x="249.30" y="302.90" font-size="6.4" text-anchor="end" textLength="7.37" lengthAdjust="spacingAndGlyphs" fill="#111" stroke="#111" stroke-width="0.14">0.4</text>
<line x1="368.5" y1="358.5" x2="368.5" y2="360.1" stroke="#555" stroke-width="0.6"/>
<line x1="251.5" y1="271.64" x2="249.9" y2="271.64" stroke="#555" stroke-width="0.6"/>
<text x="368.50" y="365.50" font-size="6.4" text-anchor="middle" textLength="7.37" lengthAdjust="spacingAndGlyphs" fill="#111" stroke="#111" stroke-width="0.14">0.6</text>
<text x="249.30" y="273.94" font-size="6.4" text-anchor="end" textLength="7.37" lengthAdjust="spacingAndGlyphs" fill="#111" stroke="#111" stroke-width="0.14">0.6</text>
<line x1="407.5" y1="358.5" x2="407.5" y2="360.1" stroke="#555" stroke-width="0.6"/>
<line x1="251.5" y1="242.69" x2="249.9" y2="242.69" stroke="#555" stroke-width="0.6"/>
<text x="407.50" y="365.50" font-size="6.4" text-anchor="middle" textLength="7.37" lengthAdjust="spacingAndGlyphs" fill="#111" stroke="#111" stroke-width="0.14">0.8</text>
<text x="249.30" y="244.99" font-size="6.4" text-anchor="end" textLength="7.37" lengthAdjust="spacingAndGlyphs" fill="#111" stroke="#111" stroke-width="0.14">0.8</text>
<line x1="446.5" y1="358.5" x2="446.5" y2="360.1" stroke="#555" stroke-width="0.6"/>
<line x1="251.5" y1="213.74" x2="249.9" y2="213.74" stroke="#555" stroke-width="0.6"/>
<text x="446.50" y="365.50" font-size="6.4" text-anchor="middle" textLength="7.37" lengthAdjust="spacingAndGlyphs" fill="#111" stroke="#111" stroke-width="0.14">1.0</text>
<text x="249.30" y="216.04" font-size="6.4" text-anchor="end" textLength="7.37" lengthAdjust="spacingAndGlyphs" fill="#111" stroke="#111" stroke-width="0.14">1.0</text>
<text x="349.00" y="372.50" font-size="6.2" text-anchor="middle" textLength="33.30" lengthAdjust="spacingAndGlyphs" fill="#111" stroke="#111" stroke-width="0.14">1 - Specificity</text>
<line x1="238.7" y1="271" x2="238.7" y2="295.5" stroke="#222" stroke-width="0.9" stroke-dasharray="0.8 1.2"/>
<text x="350.60" y="383.70" font-size="9.7" text-anchor="middle" textLength="6.14" lengthAdjust="spacingAndGlyphs" fill="#111" stroke="#111" stroke-width="0.05">E</text>
<rect x="333.2" y="313.6" width="110.9" height="41.6" rx="1.2" fill="#fff" fill-opacity="0.8" stroke="#d8d8d8" stroke-width="0.6"/>
<line x1="334.3" y1="318.5" x2="346.3" y2="318.5" stroke="#ff1493" stroke-width="1.5"/>
<text x="350.20" y="320.40" font-size="6.2" textLength="90.15" lengthAdjust="spacingAndGlyphs" fill="#111" stroke="#111" stroke-width="0.14">ALL AUC: 0.893 (95%CI 0.821-0.965)</text>
<line x1="334.8" y1="326.5" x2="345.5" y2="326.5" stroke="#000080" stroke-width="1.4" stroke-dasharray="1.4 2.3"/>
<text x="350.20" y="328.40" font-size="6.2" textLength="92.14" lengthAdjust="spacingAndGlyphs" fill="#111" stroke="#111" stroke-width="0.14">ADC AUC: 0.709 (95%CI 0.607-0.812)</text>
<line x1="334.3" y1="334.5" x2="346.3" y2="334.5" stroke="#00ffff" stroke-width="1.5"/>
<text x="350.20" y="336.40" font-size="6.2" textLength="88.24" lengthAdjust="spacingAndGlyphs" fill="#111" stroke="#111" stroke-width="0.14">CE AUC: 0.846 (95%CI 0.758-0.933)</text>
<line x1="334.8" y1="342.5" x2="345.5" y2="342.5" stroke="#ff8c00" stroke-width="1.4" stroke-dasharray="1.4 2.3"/>
<text x="350.20" y="344.40" font-size="6.2" textLength="91.24" lengthAdjust="spacingAndGlyphs" fill="#111" stroke="#111" stroke-width="0.14">DWI AUC: 0.872 (95%CI 0.792-0.951)</text>
<line x1="334.3" y1="350.5" x2="346.3" y2="350.5" stroke="#6495ed" stroke-width="1.5"/>
<text x="350.20" y="352.40" font-size="6.2" textLength="87.04" lengthAdjust="spacingAndGlyphs" fill="#111" stroke="#111" stroke-width="0.14">T2 AUC: 0.826 (95%CI 0.736-0.916)</text>
<text x="584.10" y="203.30" font-size="7.4" text-anchor="middle" textLength="66.44" lengthAdjust="spacingAndGlyphs" fill="#111" stroke="#111" stroke-width="0.1">Deep learning model</text>
<rect x="485.5" y="206.5" width="195" height="152" fill="none" stroke="#999" stroke-width="1"/>
<clipPath id="c5"><rect x="484.5" y="206.5" width="196.5" height="153"/></clipPath>
<g clip-path="url(#c5)" fill="none" stroke-linejoin="miter">
<line x1="485.5" y1="358.5" x2="680.5" y2="213.74" stroke="#1a1a1a" stroke-width="1.0" stroke-dasharray="2.4 1.4"/>
<polyline points="485.5,358.5 503.25,290.03 511.44,256.01 524.3,247.32 563.7,247.32 569.93,239.07 569.93,222.13 647.74,222.13 647.74,213.74 680.5,213.74" stroke="#ff1493" stroke-width="1.5"/>
<polyline points="485.5,358.5 485.5,339.68 488.43,337.08 491.35,333.31 505,333.31 505,299.15 511.44,299.15 511.44,291.33 518.26,289.88 518.26,282.21 524.3,281.78 524.3,266.87 527.42,264.55 531.33,258.32 532.88,256.01 536.59,256.01 536.59,247.9 556.87,247.9 556.87,239.36 589.83,239.36 589.83,222.13 608.54,222.13 608.54,213.74 680.5,213.74" stroke="#000080" stroke-width="1.4" stroke-dasharray="1.4 2.3"/>
<polyline points="485.5,358.5 491.35,358.5 491.35,341.71 511.44,341.71 511.44,333.31 517.87,333.31 517.87,315.8 531.33,315.8 531.33,298.28 550.43,298.28 550.43,264.12 562.91,264.12 562.91,256.44 569.93,256.44 569.93,247.9 595.87,247.9 595.87,239.36 621.61,239.36 621.61,230.68 635.46,230.68 635.46,222.13 661.59,222.13 661.59,213.74 680.5,213.74" stroke="#00ffff" stroke-width="1.5"/>
<polyline points="485.5,358.5 487.45,344.02 490.38,333.31 502.27,290.9 504.42,281.78 550.43,281.78 550.43,264.12 595.09,264.12 595.09,256.44 615.57,256.44 615.57,247.9 621.61,247.9 621.61,239.36 634.87,239.36 634.87,231.11 637.6,228.21 641.7,222.13 666.07,222.13 680.5,213.74" stroke="#ff8c00" stroke-width="1.4" stroke-dasharray="1.4 2.3"/>
<polyline points="485.5,358.5 498.37,290.46 531.33,290.46 531.33,264.55 537.37,264.55 537.37,256.01 544.39,256.01 544.39,247.32 602.5,247.32 602.5,230.68 608.93,230.68 608.93,222.13 628.63,222.13 628.63,213.74 680.5,213.74" stroke="#6495ed" stroke-width="1.5"/>
</g>
<line x1="485.5" y1="358.5" x2="485.5" y2="360.1" stroke="#555" stroke-width="0.6"/>
<line x1="485.5" y1="358.5" x2="483.9" y2="358.5" stroke="#555" stroke-width="0.6"/>
<text x="485.50" y="365.50" font-size="6.4" text-anchor="middle" textLength="7.37" lengthAdjust="spacingAndGlyphs" fill="#111" stroke="#111" stroke-width="0.14">0.0</text>
<text x="483.30" y="360.80" font-size="6.4" text-anchor="end" textLength="7.37" lengthAdjust="spacingAndGlyphs" fill="#111" stroke="#111" stroke-width="0.14">0.0</text>
<line x1="524.5" y1="358.5" x2="524.5" y2="360.1" stroke="#555" stroke-width="0.6"/>
<line x1="485.5" y1="329.55" x2="483.9" y2="329.55" stroke="#555" stroke-width="0.6"/>
<text x="524.50" y="365.50" font-size="6.4" text-anchor="middle" textLength="7.37" lengthAdjust="spacingAndGlyphs" fill="#111" stroke="#111" stroke-width="0.14">0.2</text>
<text x="483.30" y="331.85" font-size="6.4" text-anchor="end" textLength="7.37" lengthAdjust="spacingAndGlyphs" fill="#111" stroke="#111" stroke-width="0.14">0.2</text>
<line x1="563.5" y1="358.5" x2="563.5" y2="360.1" stroke="#555" stroke-width="0.6"/>
<line x1="485.5" y1="300.6" x2="483.9" y2="300.6" stroke="#555" stroke-width="0.6"/>
<text x="563.50" y="365.50" font-size="6.4" text-anchor="middle" textLength="7.37" lengthAdjust="spacingAndGlyphs" fill="#111" stroke="#111" stroke-width="0.14">0.4</text>
<text x="483.30" y="302.90" font-size="6.4" text-anchor="end" textLength="7.37" lengthAdjust="spacingAndGlyphs" fill="#111" stroke="#111" stroke-width="0.14">0.4</text>
<line x1="602.5" y1="358.5" x2="602.5" y2="360.1" stroke="#555" stroke-width="0.6"/>
<line x1="485.5" y1="271.64" x2="483.9" y2="271.64" stroke="#555" stroke-width="0.6"/>
<text x="602.50" y="365.50" font-size="6.4" text-anchor="middle" textLength="7.37" lengthAdjust="spacingAndGlyphs" fill="#111" stroke="#111" stroke-width="0.14">0.6</text>
<text x="483.30" y="273.94" font-size="6.4" text-anchor="end" textLength="7.37" lengthAdjust="spacingAndGlyphs" fill="#111" stroke="#111" stroke-width="0.14">0.6</text>
<line x1="641.5" y1="358.5" x2="641.5" y2="360.1" stroke="#555" stroke-width="0.6"/>
<line x1="485.5" y1="242.69" x2="483.9" y2="242.69" stroke="#555" stroke-width="0.6"/>
<text x="641.50" y="365.50" font-size="6.4" text-anchor="middle" textLength="7.37" lengthAdjust="spacingAndGlyphs" fill="#111" stroke="#111" stroke-width="0.14">0.8</text>
<text x="483.30" y="244.99" font-size="6.4" text-anchor="end" textLength="7.37" lengthAdjust="spacingAndGlyphs" fill="#111" stroke="#111" stroke-width="0.14">0.8</text>
<line x1="680.5" y1="358.5" x2="680.5" y2="360.1" stroke="#555" stroke-width="0.6"/>
<line x1="485.5" y1="213.74" x2="483.9" y2="213.74" stroke="#555" stroke-width="0.6"/>
<text x="680.50" y="365.50" font-size="6.4" text-anchor="middle" textLength="7.37" lengthAdjust="spacingAndGlyphs" fill="#111" stroke="#111" stroke-width="0.14">1.0</text>
<text x="483.30" y="216.04" font-size="6.4" text-anchor="end" textLength="7.37" lengthAdjust="spacingAndGlyphs" fill="#111" stroke="#111" stroke-width="0.14">1.0</text>
<text x="583.00" y="372.50" font-size="6.2" text-anchor="middle" textLength="33.30" lengthAdjust="spacingAndGlyphs" fill="#111" stroke="#111" stroke-width="0.14">1 - Specificity</text>
<text x="472.90" y="283.00" font-size="6.0" text-anchor="middle" textLength="24.98" lengthAdjust="spacingAndGlyphs" fill="#111" stroke="#111" stroke-width="0.14" transform="rotate(-90 472.9 283)">Sensitivity</text>
<text x="586.50" y="383.70" font-size="9.7" text-anchor="middle" textLength="5.62" lengthAdjust="spacingAndGlyphs" fill="#111" stroke="#111" stroke-width="0.05">F</text>
<rect x="567.2" y="313.6" width="110.9" height="41.6" rx="1.2" fill="#fff" fill-opacity="0.8" stroke="#d8d8d8" stroke-width="0.6"/>
<line x1="568.3" y1="318.5" x2="580.3" y2="318.5" stroke="#ff1493" stroke-width="1.5"/>
<text x="584.20" y="320.40" font-size="6.2" textLength="90.15" lengthAdjust="spacingAndGlyphs" fill="#111" stroke="#111" stroke-width="0.14">ALL AUC: 0.819 (95%CI 0.689-0.948)</text>
<line x1="568.8" y1="326.5" x2="579.5" y2="326.5" stroke="#000080" stroke-width="1.4" stroke-dasharray="1.4 2.3"/>
<text x="584.20" y="328.40" font-size="6.2" textLength="92.14" lengthAdjust="spacingAndGlyphs" fill="#111" stroke="#111" stroke-width="0.14">ADC AUC: 0.783 (95%CI 0.651-0.916)</text>
<line x1="568.3" y1="334.5" x2="580.3" y2="334.5" stroke="#00ffff" stroke-width="1.5"/>
<text x="584.20" y="336.40" font-size="6.2" textLength="88.24" lengthAdjust="spacingAndGlyphs" fill="#111" stroke="#111" stroke-width="0.14">CE AUC: 0.641 (95%CI 0.477-0.805)</text>
<line x1="568.8" y1="342.5" x2="579.5" y2="342.5" stroke="#ff8c00" stroke-width="1.4" stroke-dasharray="1.4 2.3"/>
<text x="584.20" y="344.40" font-size="6.2" textLength="91.24" lengthAdjust="spacingAndGlyphs" fill="#111" stroke="#111" stroke-width="0.14">DWI AUC: 0.668 (95%CI 0.490-0.846)</text>
<line x1="568.3" y1="350.5" x2="580.3" y2="350.5" stroke="#6495ed" stroke-width="1.5"/>
<text x="584.20" y="352.40" font-size="6.2" textLength="87.04" lengthAdjust="spacingAndGlyphs" fill="#111" stroke="#111" stroke-width="0.14">T2 AUC: 0.756 (95%CI 0.610-0.902)</text>
</svg>
</body></html>
